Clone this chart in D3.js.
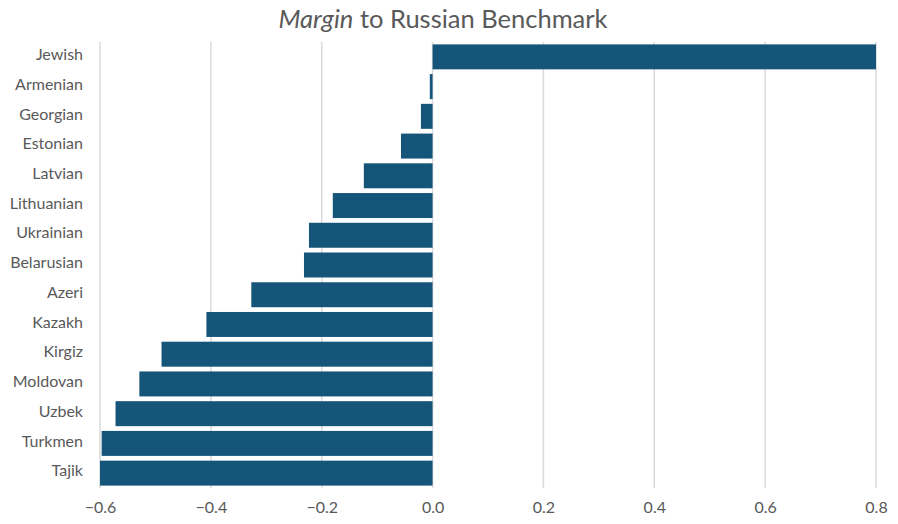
<!DOCTYPE html>
<html><head><meta charset="utf-8">
<script src="https://cdn.jsdelivr.net/npm/d3@7"></script>
<style>body{margin:0;background:#fff}svg{display:block}</style>
</head><body>
<svg id="c" width="898" height="524"></svg>
<script>
const categories = ["Jewish","Armenian","Georgian","Estonian","Latvian","Lithuanian","Ukrainian","Belarusian","Azeri","Kazakh","Kirgiz","Moldovan","Uzbek","Turkmen","Tajik"];
const values = [0.80,-0.005,-0.021,-0.057,-0.124,-0.180,-0.223,-0.232,-0.327,-0.408,-0.489,-0.529,-0.572,-0.597,-0.600];
const xTicks = [-0.6,-0.4,-0.2,0.0,0.2,0.4,0.6,0.8];

const svg = d3.select("#c");
const font = "Lato, 'Open Sans', sans-serif";
const x = d3.scaleLinear().domain([-0.6,0.8]).range([100,876]);
const y = d3.scaleBand().domain(categories).range([42,488]).paddingInner(0.16).paddingOuter(0.08);

// gridlines
svg.append("g").selectAll("line").data(xTicks).join("line")
  .attr("x1",d=>x(d)).attr("x2",d=>x(d)).attr("y1",42).attr("y2",488)
  .attr("stroke","#d9d9d9").attr("stroke-width",1.5);

// bars
svg.append("g").selectAll("rect").data(values).join("rect")
  .attr("x",d=>x(Math.min(0,d))).attr("width",d=>Math.abs(x(d)-x(0)))
  .attr("y",(d,i)=>y(categories[i])).attr("height",y.bandwidth())
  .attr("fill","#16557a");

// x axis labels
const xa = svg.append("g").attr("transform","translate(0,488)")
  .call(d3.axisBottom(x).tickValues(xTicks).tickFormat(d3.format(".1f")).tickSize(0).tickPadding(14));
xa.select(".domain").remove();
xa.selectAll("text").attr("font-family",font).attr("font-size",16).attr("fill","#595959");

// y axis labels
const ya = svg.append("g").attr("transform","translate(83,0)")
  .call(d3.axisLeft(y).tickSize(0).tickPadding(0));
ya.select(".domain").remove();
ya.selectAll("text").attr("font-family",font).attr("font-size",16).attr("fill","#595959").attr("dy","0.2em");

// title
const t = svg.append("text").attr("x",443).attr("y",28).attr("text-anchor","middle")
  .attr("font-family",font).attr("font-size",25.5).attr("fill","#595959");
t.append("tspan").attr("font-style","italic").text("Margin");
t.append("tspan").text(" to Russian Benchmark");
</script>
</body></html>
